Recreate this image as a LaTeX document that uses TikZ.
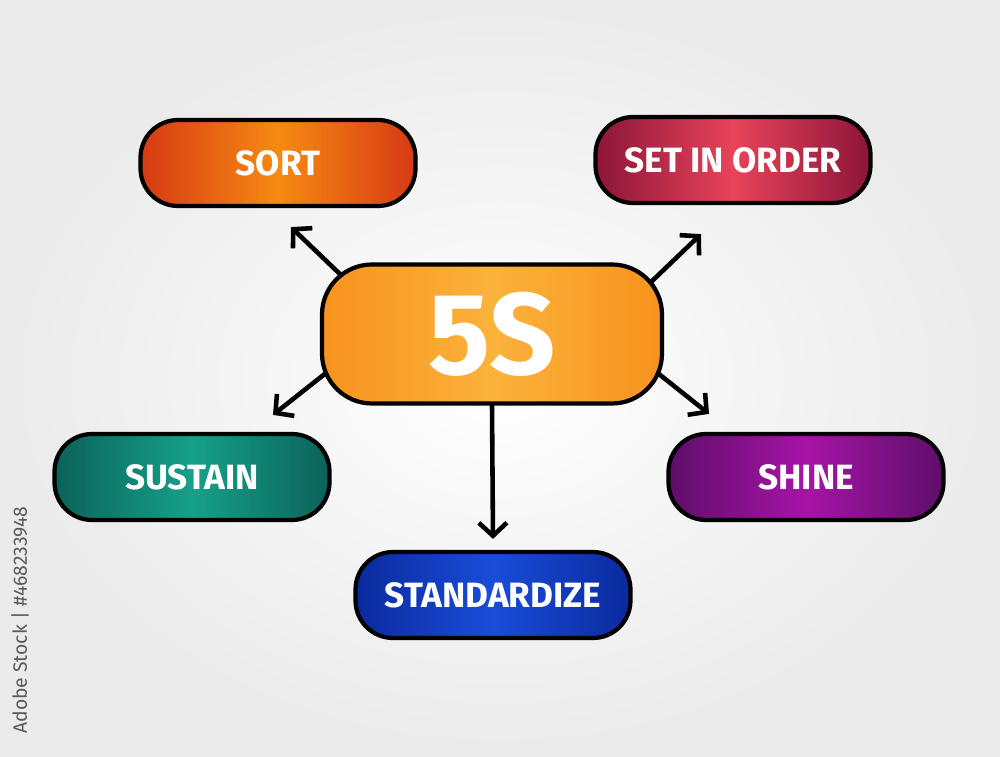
\documentclass[tikz,border=0pt]{standalone}
\usepackage{fontspec}
\setmainfont{Fira Sans}
\usetikzlibrary{arrows.meta,backgrounds}
\definecolor{sortout}{HTML}{D63A14}
\definecolor{sortin}{HTML}{F68A12}
\definecolor{orderout}{HTML}{8C1538}
\definecolor{orderin}{HTML}{E8435A}
\definecolor{fivesout}{HTML}{F7931E}
\definecolor{fivesin}{HTML}{FBB23B}
\definecolor{sustainout}{HTML}{0B6259}
\definecolor{sustainin}{HTML}{16A08A}
\definecolor{shineout}{HTML}{5E0E6A}
\definecolor{shinein}{HTML}{A614A6}
\definecolor{stdout}{HTML}{0A2A9E}
\definecolor{stdin}{HTML}{1A4CD8}
\begin{document}
\begin{tikzpicture}[
	box/.style={draw=black, line width=2.4pt, rounded corners=0.75cm, minimum width=5.5cm, minimum height=1.72cm, text=white, font=\fontsize{20}{20}\selectfont\bfseries},
	link/.style={line width=2.6pt, line cap=round, -{Straight Barb[length=2.6mm,width=5.6mm]}}]
		\useasboundingbox (0,0) rectangle (20,15.12);
		
		\node[box, left color=sortout, right color=sortout, middle color=sortin] (sort) at (5.56,11.86) {SORT};
		\node[box, left color=orderout, right color=orderout, middle color=orderin] (order) at (14.66,11.92) {SET IN ORDER};
		\node[box, minimum width=6.8cm, minimum height=2.78cm, rounded corners=1cm, font=\fontsize{66}{66}\selectfont\bfseries, left color=fivesout, right color=fivesout, middle color=fivesin] (fives) at (9.84,8.44) {5S};
		\node[box, left color=sustainout, right color=sustainout, middle color=sustainin] (sustain) at (3.84,5.58) {SUSTAIN};
		\node[box, left color=shineout, right color=shineout, middle color=shinein] (shine) at (16.12,5.58) {SHINE};
		\node[box, left color=stdout, right color=stdout, middle color=stdin] (std) at (9.86,3.22) {STANDARDIZE};
		
		\node[rotate=90, text=black!65, font=\fontsize{11}{11}\selectfont] (stockid) at (0.4,2.72) {Adobe Stock | \#468233948};
		
		\begin{scope}[on background layer]
		\shade[inner color=white, outer color=black!8] (0,0) rectangle (20,15.12);
		\draw[link] ([shift={(0.7,-0.52)}]fives.north west) -- ([shift={(0.26,-0.38)}]sort.south);
		\draw[link] ([shift={(-0.52,-0.64)}]fives.north east) -- ([shift={(-0.64,-0.58)}]order.south);
		\draw[link] ([shift={(0.46,0.92)}]fives.south west) -- ([shift={(1.62,0.34)}]sustain.north);
		\draw[link] ([shift={(-0.44,0.9)}]fives.south east) -- ([shift={(-1.94,0.36)}]shine.north);
		\draw[link] (fives.south) -- ([yshift=0.22cm]std.north);
		\end{scope}
	\end{tikzpicture}
\end{document}
